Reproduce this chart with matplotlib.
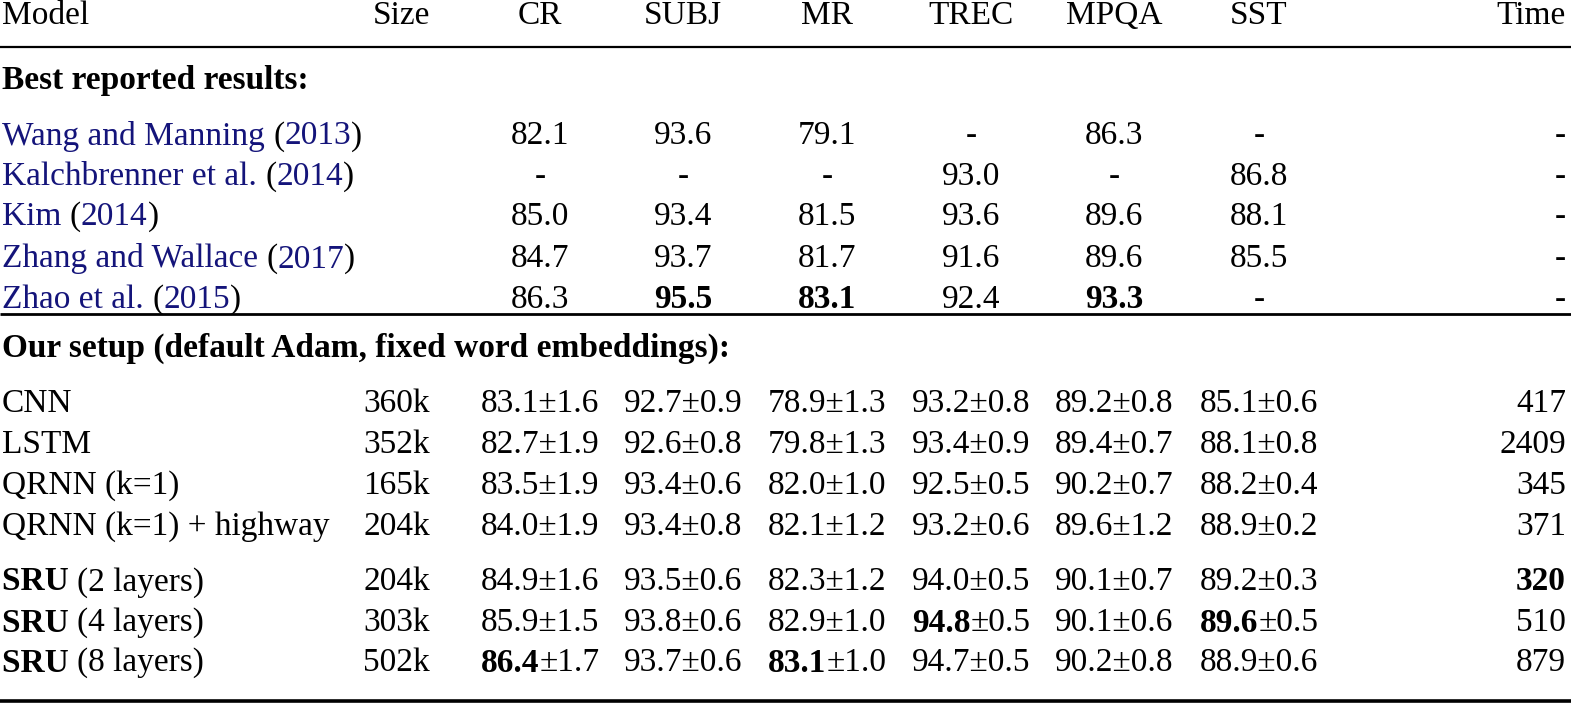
import matplotlib
matplotlib.use("Agg")
import matplotlib.pyplot as plt

plt.rcParams['font.family'] = ['Liberation Serif', 'DejaVu Serif']
plt.rcParams['mathtext.fontset'] = 'stix'

W, H = 1571, 709
FS = 24
BLUE = '#14147a'

headers = ["Model", "Size", "CR", "SUBJ", "MR", "TREC", "MPQA", "SST", "Time"]
col_x = [2, 430, 540, 683, 827, 971, 1114, 1259, 1566]
col_ha = ['left', 'right', 'center', 'center', 'center', 'center', 'center', 'center', 'right']

# Best reported results: (name, year)
ref_names = ["Wang and Manning", "Kalchbrenner et al.", "Kim", "Zhang and Wallace", "Zhao et al."]
ref_years = ["2013", "2014", "2014", "2017", "2015"]
ref_cr   = ["82.1", "-", "85.0", "84.7", "86.3"]
ref_subj = ["93.6", "-", "93.4", "93.7", "*95.5"]
ref_mr   = ["79.1", "-", "81.5", "81.7", "*83.1"]
ref_trec = ["-", "93.0", "93.6", "91.6", "92.4"]
ref_mpqa = ["86.3", "-", "89.6", "89.6", "*93.3"]
ref_sst  = ["-", "86.8", "88.1", "85.5", "-"]
ref_time = ["-", "-", "-", "-", "-"]

# Our setup ("*" prefix = bold mean)
our_names = ["CNN", "LSTM", "QRNN (k=1)", "QRNN (k=1) + highway", "SRU|(2 layers)", "SRU|(4 layers)", "SRU|(8 layers)"]
our_size = ["360k", "352k", "165k", "204k", "204k", "303k", "502k"]
our_cr   = ["83.1±1.6", "82.7±1.9", "83.5±1.9", "84.0±1.9", "84.9±1.6", "85.9±1.5", "*86.4±1.7"]
our_subj = ["92.7±0.9", "92.6±0.8", "93.4±0.6", "93.4±0.8", "93.5±0.6", "93.8±0.6", "93.7±0.6"]
our_mr   = ["78.9±1.3", "79.8±1.3", "82.0±1.0", "82.1±1.2", "82.3±1.2", "82.9±1.0", "*83.1±1.0"]
our_trec = ["93.2±0.8", "93.4±0.9", "92.5±0.5", "93.2±0.6", "94.0±0.5", "*94.8±0.5", "94.7±0.5"]
our_mpqa = ["89.2±0.8", "89.4±0.7", "90.2±0.7", "89.6±1.2", "90.1±0.7", "90.1±0.6", "90.2±0.8"]
our_sst  = ["85.1±0.6", "88.1±0.8", "88.2±0.4", "88.9±0.2", "89.2±0.3", "*89.6±0.5", "88.9±0.6"]
our_time = ["417", "2409", "345", "371", "*320", "510", "879"]

header_y = 16
rule_y = [47, 314, 701]
rule_w = [1.6, 2.0, 2.6]
best_y = 80
ref_y = [136, 177, 217, 259, 300]
our_title_y = 348
our_y = [404, 445, 486, 527, 582, 623, 663]

fig = plt.figure(figsize=(W / 100, H / 100), dpi=100)
ax = fig.add_axes([0, 0, 1, 1])
ax.set_xlim(0, W)
ax.set_ylim(H, 0)
ax.axis('off')
FAM = ['Liberation Serif', 'DejaVu Serif']

def txt(x, y, s, **kw):
    kw.setdefault('fontsize', FS)
    kw.setdefault('va', 'center')
    return ax.text(x, y, s, family=FAM, **kw)

def cell(x, y, s, ha):
    if s.startswith('*'):
        s = s[1:]
        if '±' in s:
            m, e = s.split('±')
            t1 = txt(0, 0, m, fontweight='bold')
            t2 = txt(0, 0, '±' + e)
            r = fig.canvas.get_renderer()
            w1 = t1.get_window_extent(r).width
            w2 = t2.get_window_extent(r).width
            t1.remove(); t2.remove()
            tot = w1 + w2
            x0 = x - tot / 2 if ha == 'center' else x
            txt(x0, y, m, fontweight='bold', ha='left')
            txt(x0 + w1, y, '±' + e, ha='left')
            return
        txt(x, y, s, fontweight='bold', ha=ha)
    else:
        txt(x, y, s, ha=ha)

for h, x, ha in zip(headers, col_x, col_ha):
    txt(x, header_y, h, ha=ha)

for y, lw in zip(rule_y, rule_w):
    ax.plot([0, W], [y, y], color='black', lw=lw, solid_capstyle='butt')

txt(2, best_y, "Best reported results:", fontweight='bold')
txt(2, our_title_y, "Our setup (default Adam, fixed word embeddings):", fontweight='bold')

for i, y in enumerate(ref_y):
    t = txt(2, y, ref_names[i] + " ", color=BLUE)
    t = ax.annotate("(", xy=(1, 0), xycoords=t, fontsize=FS, va='bottom', family=FAM)
    t = ax.annotate(ref_years[i], xy=(1, 0), xycoords=t, fontsize=FS, color=BLUE, va='bottom', family=FAM)
    ax.annotate(")", xy=(1, 0), xycoords=t, fontsize=FS, va='bottom', family=FAM)
    vals = [ref_cr[i], ref_subj[i], ref_mr[i], ref_trec[i], ref_mpqa[i], ref_sst[i], ref_time[i]]
    for v, x, ha in zip(vals, col_x[2:], col_ha[2:]):
        cell(x, y, v, ha)

for i, y in enumerate(our_y):
    nm = our_names[i]
    if '|' in nm:
        b, r_ = nm.split('|')
        t = txt(2, y, b + " ", fontweight='bold')
        ax.annotate(r_, xy=(1, 0), xycoords=t, fontsize=FS, va='bottom', family=FAM)
    else:
        txt(2, y, nm)
    vals = [our_size[i], our_cr[i], our_subj[i], our_mr[i], our_trec[i], our_mpqa[i], our_sst[i], our_time[i]]
    for v, x, ha in zip(vals, col_x[1:], col_ha[1:]):
        cell(x, y, v, ha)

fig.savefig("out.png", dpi=100)
